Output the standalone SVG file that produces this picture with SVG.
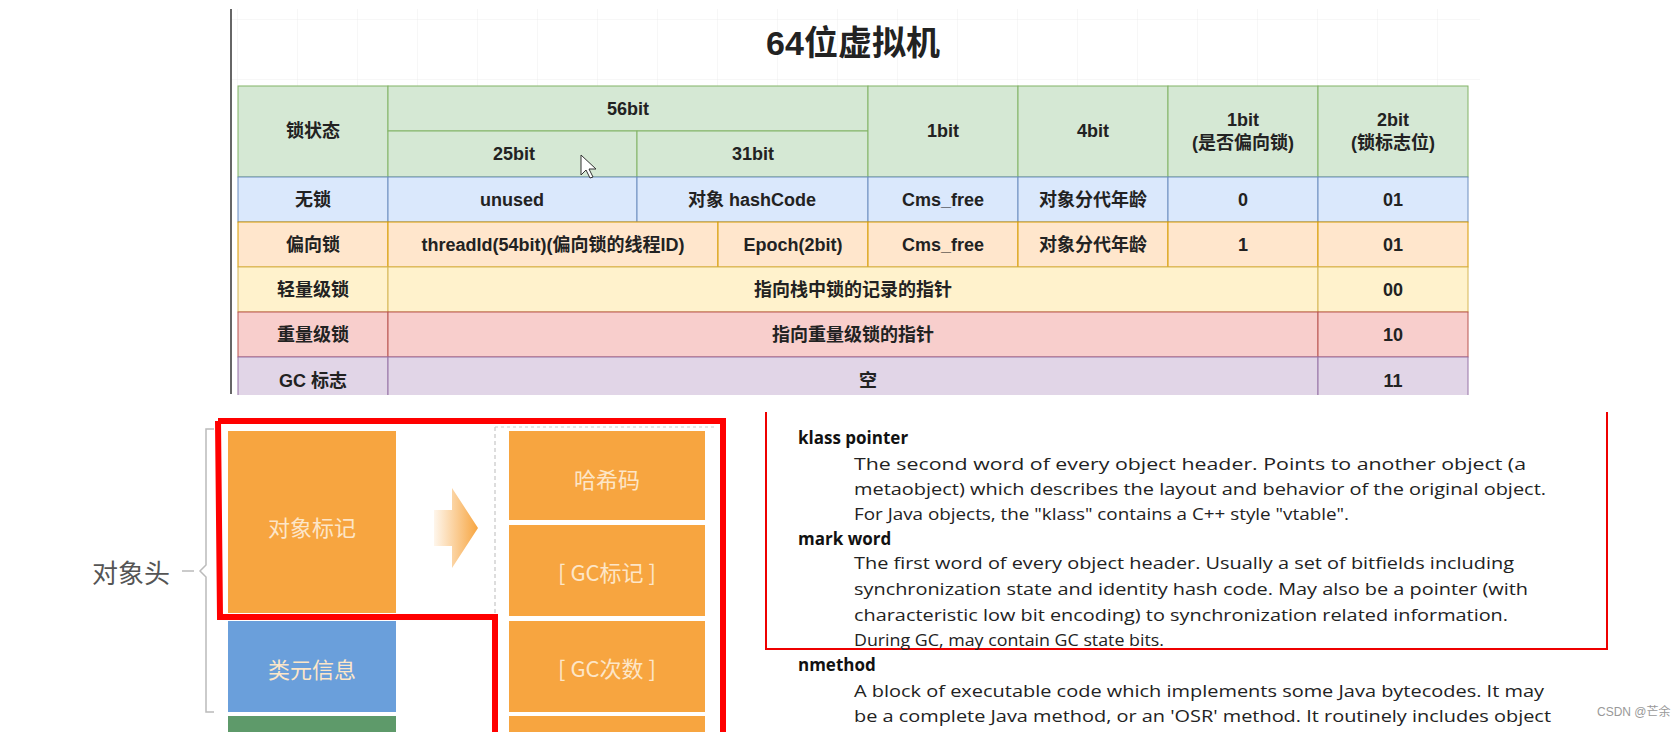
<svg xmlns="http://www.w3.org/2000/svg" width="1680" height="732" viewBox="0 0 1680 732">
<defs>
<pattern id="grid" width="60" height="60" patternUnits="userSpaceOnUse" x="238" y="20"><path d="M60 0V60M0 60H60" fill="none" stroke="#eeeeee" stroke-width="1"/></pattern>
<linearGradient id="ag" x1="0" x2="1"><stop offset="0" stop-color="#f7a540" stop-opacity="0.1"/><stop offset="1" stop-color="#f7a540"/></linearGradient>
</defs>
<style>
.t{font-family:"Liberation Sans","Noto Sans CJK SC",sans-serif;font-weight:bold;font-size:18px;fill:#222;text-anchor:middle;dominant-baseline:central}
.g{fill:#d5e8d4;stroke:#82b366}.b{fill:#dae8fc;stroke:#6c8ebf}.o{fill:#ffe6cc;stroke:#d79b00}.y{fill:#fff2cc;stroke:#d6b656}.r{fill:#f8cecc;stroke:#b85450}.p{fill:#e1d5e7;stroke:#9673a6}
.w{font-family:"Noto Sans CJK SC",sans-serif;font-size:22px;fill:#fde6c8;text-anchor:middle;dominant-baseline:central}
.e{font-family:"Open Sans","DejaVu Sans",sans-serif;font-size:17px;fill:#222}
.eb{font-family:"Open Sans","DejaVu Sans",sans-serif;font-size:17px;font-weight:bold;fill:#111}
.ob{fill:#f7a540}
</style>
<rect width="1680" height="732" fill="#fff"/>
<rect x="232" y="9" width="1248" height="77" fill="url(#grid)"/>
<line x1="231" y1="9" x2="231" y2="394" stroke="#333" stroke-width="1.5"/>
<text x="853" y="43" class="t" style="font-size:34px">64位虚拟机</text>
<g id="table">
<g id="header">
<rect x="238" y="86" width="150" height="91" class="g"/><text x="313" y="131" class="t">锁状态</text>
<rect x="388" y="86" width="480" height="45" class="g"/><text x="628" y="109" class="t">56bit</text>
<rect x="388" y="131" width="249" height="46" class="g"/><text x="514" y="154" class="t">25bit</text>
<rect x="637" y="131" width="231" height="46" class="g"/><text x="753" y="154" class="t">31bit</text>
<rect x="868" y="86" width="150" height="91" class="g"/><text x="943" y="131" class="t">1bit</text>
<rect x="1018" y="86" width="150" height="91" class="g"/><text x="1093" y="131" class="t">4bit</text>
<rect x="1168" y="86" width="150" height="91" class="g"/><text x="1243" y="120" class="t">1bit</text><text x="1243" y="143" class="t">(是否偏向锁)</text>
<rect x="1318" y="86" width="150" height="91" class="g"/><text x="1393" y="120" class="t">2bit</text><text x="1393" y="143" class="t">(锁标志位)</text>
</g>
<g id="row-nolock">
<rect x="238" y="177" width="150" height="45" class="b"/><text x="313" y="200" class="t">无锁</text>
<rect x="388" y="177" width="249" height="45" class="b"/><text x="512" y="200" class="t">unused</text>
<rect x="637" y="177" width="231" height="45" class="b"/><text x="752" y="200" class="t">对象 hashCode</text>
<rect x="868" y="177" width="150" height="45" class="b"/><text x="943" y="200" class="t">Cms_free</text>
<rect x="1018" y="177" width="150" height="45" class="b"/><text x="1093" y="200" class="t">对象分代年龄</text>
<rect x="1168" y="177" width="150" height="45" class="b"/><text x="1243" y="200" class="t">0</text>
<rect x="1318" y="177" width="150" height="45" class="b"/><text x="1393" y="200" class="t">01</text>
</g>
<g id="row-biased">
<rect x="238" y="222" width="150" height="45" class="o"/><text x="313" y="245" class="t">偏向锁</text>
<rect x="388" y="222" width="330" height="45" class="o"/><text x="553" y="245" class="t">threadId(54bit)(偏向锁的线程ID)</text>
<rect x="718" y="222" width="150" height="45" class="o"/><text x="793" y="245" class="t">Epoch(2bit)</text>
<rect x="868" y="222" width="150" height="45" class="o"/><text x="943" y="245" class="t">Cms_free</text>
<rect x="1018" y="222" width="150" height="45" class="o"/><text x="1093" y="245" class="t">对象分代年龄</text>
<rect x="1168" y="222" width="150" height="45" class="o"/><text x="1243" y="245" class="t">1</text>
<rect x="1318" y="222" width="150" height="45" class="o"/><text x="1393" y="245" class="t">01</text>
</g>
<g id="row-light">
<rect x="238" y="267" width="150" height="45" class="y"/><text x="313" y="290" class="t">轻量级锁</text>
<rect x="388" y="267" width="930" height="45" class="y"/><text x="853" y="290" class="t">指向栈中锁的记录的指针</text>
<rect x="1318" y="267" width="150" height="45" class="y"/><text x="1393" y="290" class="t">00</text>
</g>
<g id="row-heavy">
<rect x="238" y="312" width="150" height="45" class="r"/><text x="313" y="335" class="t">重量级锁</text>
<rect x="388" y="312" width="930" height="45" class="r"/><text x="853" y="335" class="t">指向重量级锁的指针</text>
<rect x="1318" y="312" width="150" height="45" class="r"/><text x="1393" y="335" class="t">10</text>
</g>
<g id="row-gc">
<rect x="238" y="357" width="150" height="45" class="p"/><text x="313" y="381" class="t">GC 标志</text>
<rect x="388" y="357" width="930" height="45" class="p"/><text x="868" y="381" class="t">空</text>
<rect x="1318" y="357" width="150" height="45" class="p"/><text x="1393" y="381" class="t">11</text>
</g>
<path d="M581 155v20l5-5 4 8 3-1-4-8h7z" fill="#fff" stroke="#333" stroke-width="1"/>
</g>
<rect x="0" y="395" width="1680" height="337" fill="#fff"/>
<g id="object-header">
<text x="131" y="571" font-family="Noto Sans CJK SC,sans-serif" font-size="26" fill="#555" text-anchor="middle" dominant-baseline="central">对象头</text>
<path d="M214 429h-8v136l-6 6 6 6v135h8M182 571h12" fill="none" stroke="#bbb" stroke-width="1.5"/>
<rect x="228" y="431" width="168" height="182" class="ob"/><text x="312" y="526" class="w">对象标记</text>
<rect x="228" y="621" width="168" height="91" fill="#6a9fdb"/><text x="312" y="668" class="w">类元信息</text>
<rect x="228" y="716" width="168" height="16" fill="#5e9a6a"/>
<path d="M434 510h18v-22l26 40-26 40v-22h-18z" fill="url(#ag)"/>
<line x1="495" y1="427" x2="495" y2="732" stroke="#bbb" stroke-dasharray="4 3"/>
<line x1="495" y1="427" x2="717" y2="427" stroke="#ccc" stroke-dasharray="3 3"/>
<rect x="509" y="431" width="196" height="89" class="ob"/><text x="607" y="478" class="w">哈希码</text>
<rect x="509" y="525" width="196" height="91" class="ob"/><text x="607" y="571" class="w">[ GC标记 ]</text>
<rect x="509" y="621" width="196" height="91" class="ob"/><text x="607" y="667" class="w">[ GC次数 ]</text>
<rect x="509" y="716" width="196" height="16" class="ob"/>
<path d="M218 421H723V732M218 421L220 617H495V732" fill="none" stroke="#f00" stroke-width="6"/>
</g>
<g id="glossary">
<path d="M766 412V649H1607V412" fill="none" stroke="#e00" stroke-width="2"/>
<text x="798" y="437" class="eb" dominant-baseline="central">klass pointer</text>
<text x="854" y="463" class="e" dominant-baseline="central" textLength="672" lengthAdjust="spacingAndGlyphs">The second word of every object header. Points to another object (a</text>
<text x="854" y="488" class="e" dominant-baseline="central" textLength="692" lengthAdjust="spacingAndGlyphs">metaobject) which describes the layout and behavior of the original object.</text>
<text x="854" y="513" class="e" dominant-baseline="central" textLength="495" lengthAdjust="spacingAndGlyphs">For Java objects, the "klass" contains a C++ style "vtable".</text>
<text x="798" y="538" class="eb" dominant-baseline="central">mark word</text>
<text x="854" y="562" class="e" dominant-baseline="central" textLength="660" lengthAdjust="spacingAndGlyphs">The first word of every object header. Usually a set of bitfields including</text>
<text x="854" y="588" class="e" dominant-baseline="central" textLength="674" lengthAdjust="spacingAndGlyphs">synchronization state and identity hash code. May also be a pointer (with</text>
<text x="854" y="614" class="e" dominant-baseline="central" textLength="654" lengthAdjust="spacingAndGlyphs">characteristic low bit encoding) to synchronization related information.</text>
<text x="854" y="639" class="e" dominant-baseline="central" textLength="310" lengthAdjust="spacingAndGlyphs">During GC, may contain GC state bits.</text>
<text x="798" y="664" class="eb" dominant-baseline="central">nmethod</text>
<text x="854" y="690" class="e" dominant-baseline="central" textLength="690" lengthAdjust="spacingAndGlyphs">A block of executable code which implements some Java bytecodes. It may</text>
<text x="854" y="715" class="e" dominant-baseline="central" textLength="697" lengthAdjust="spacingAndGlyphs">be a complete Java method, or an 'OSR' method. It routinely includes object</text>
</g>
<text x="1597" y="716" font-family="Liberation Sans,Noto Sans CJK SC,sans-serif" font-size="12" fill="#999">CSDN @芒余</text>
</svg>
